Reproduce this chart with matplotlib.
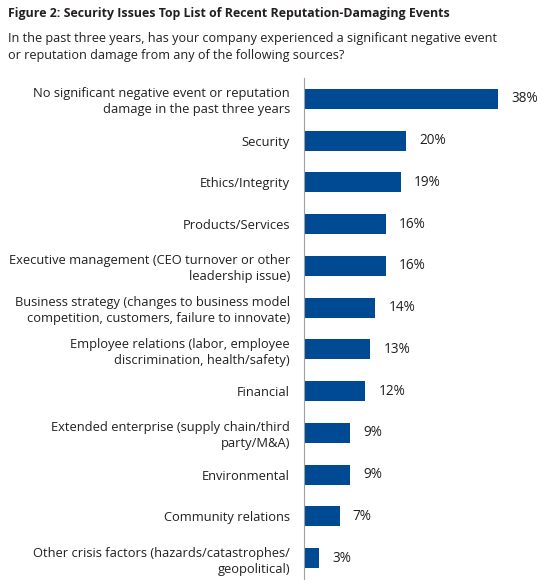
import matplotlib.pyplot as plt

categories = [
    "No significant negative event or reputation\ndamage in the past three years",
    "Security",
    "Ethics/Integrity",
    "Products/Services",
    "Executive management (CEO turnover or other\nleadership issue)",
    "Business strategy (changes to business model\ncompetition, customers, failure to innovate)",
    "Employee relations (labor, employee\ndiscrimination, health/safety)",
    "Financial",
    "Extended enterprise (supply chain/third\nparty/M&A)",
    "Environmental",
    "Community relations",
    "Other crisis factors (hazards/catastrophes/\ngeopolitical)",
]
values = [38, 20, 19, 16, 16, 14, 13, 12, 9, 9, 7, 3]

title = "Figure 2: Security Issues Top List of Recent Reputation-Damaging Events"
subtitle = ("In the past three years, has your company experienced a significant negative event\n"
            "or reputation damage from any of the following sources?")

plt.rcParams["font.family"] = ["Open Sans", "DejaVu Sans"]
text_color = "#231f20"
bar_color = "#004a93"

fig = plt.figure(figsize=(5.5, 5.88), dpi=100)
fig.text(8 / 550, 1 - 14 / 588, title, fontsize=8.9, fontweight="bold",
         color=text_color, va="center", ha="left")
fig.text(8 / 550, 1 - 47 / 588, subtitle, fontsize=9.05, color=text_color,
         va="center", ha="left", linespacing=1.4)

ax = fig.add_axes([304 / 550, 1 - 579 / 588, 245 / 550, 501 / 588])
pos = list(range(len(categories)))
ax.barh(pos, values, height=0.48, color=bar_color)
ax.set_ylim(len(categories) - 0.5, -0.5)
ax.set_xlim(0, 48)

for p, v in zip(pos, values):
    ax.annotate(f"{v}%", (v, p), xytext=(9.4, 0), textcoords="offset points",
                va="center", ha="left", fontsize=9.8, color=text_color)

ax.set_yticks(pos)
ax.set_yticklabels(categories, fontsize=9.3, color=text_color, linespacing=1.3)
ax.tick_params(axis="y", length=0, pad=10)
ax.set_xticks([])
for s in ["top", "right", "bottom"]:
    ax.spines[s].set_visible(False)
ax.spines["left"].set_color("#a0a0a0")
ax.spines["left"].set_linewidth(0.8)

fig.savefig("out.png", dpi=100)
